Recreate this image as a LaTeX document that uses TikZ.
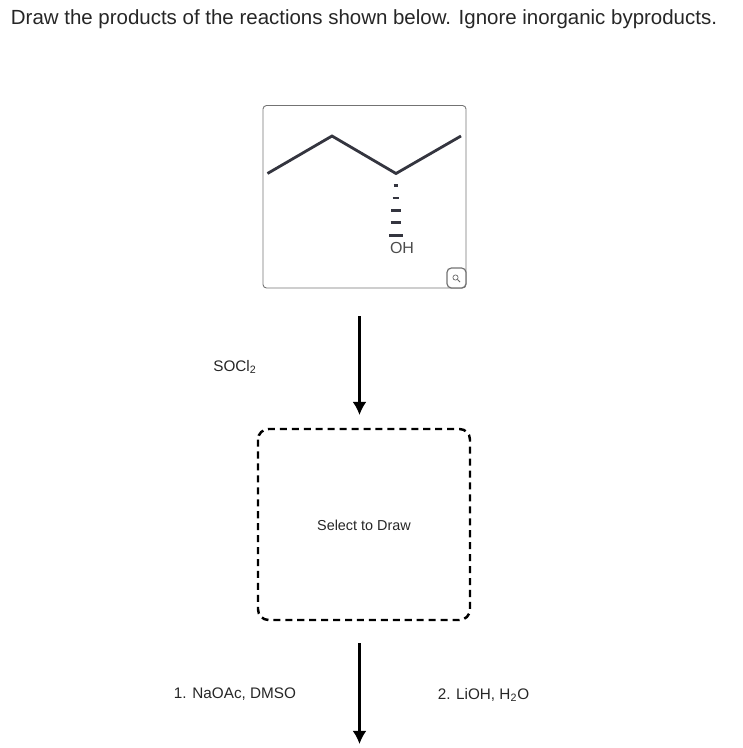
\documentclass[tikz,border=0pt]{standalone}
\usepackage{fontspec}
\setmainfont{Liberation Sans}
\usetikzlibrary{arrows.meta}
\definecolor{bondgray}{HTML}{34353F}
\tikzset{
    label text/.style={inner sep=0pt, font=\fontsize{8.7pt}{11pt}\selectfont, text=black!85},
    bond/.style={line width=1.6pt, draw=bondgray},
    hash/.style={line width=1.7pt, draw=bondgray},
    react arrow/.style={line width=1.2pt, -{Latex[length=7.5pt, width=8pt]}}
}
\begin{document}
\begin{tikzpicture}[x=0.02cm, y=-0.02cm]
    \useasboundingbox (0, 0) rectangle (743, 748);
    \node[inner sep=0pt, font=\fontsize{11.65pt}{14pt}\selectfont, text=black!85] (title) at (364, 19) {Draw the products of the reactions shown below. Ignore inorganic byproducts.};

    % starting material
    \draw[rounded corners=2pt, draw=black!55, line width=0.5pt] (263, 105.5) rectangle (466, 288);
    \coordinate (c1) at (267.5, 173.5);
    \coordinate (c2) at (332, 136);
    \coordinate (c3) at (396, 173.5);
    \coordinate (c4) at (461, 136);
    \draw[bond] (c1) -- (c2) -- (c3) -- (c4);
    \foreach \y/\w in {185.7/2.3, 198/3.3, 210.5/4.7, 222.5/5.3, 235/7} {
        \draw[hash] (396-\w, \y) -- (396+\w, \y);
    }
    \node[label text, text=black!70, font=\fontsize{9.1pt}{11pt}\selectfont] (oh) at (402, 247.5) {OH};

    % zoom button
    \draw[rounded corners=2.5pt, draw=black!55, line width=0.7pt, fill=white] (447, 268) rectangle (466, 288);
    \draw[black!60, line width=0.4pt] (455.5, 277.5) circle (2.6);
    \draw[black!60, line width=0.6pt] (457.5, 279.5) -- (460, 282);

    % reaction arrows and conditions
    \coordinate (a1) at (359.5, 316);
    \coordinate (a2) at (359.5, 415);
    \draw[react arrow] (a1) -- (a2);
    \node[label text] (socl) at (235, 366.5) {SOCl\textsubscript{2}};

    \draw[line width=1.4pt, dash pattern=on 4pt off 2.8pt, rounded corners=6pt] (258, 429) rectangle (470, 620);
    \node[label text, font=\fontsize{8.2pt}{11pt}\selectfont] (select) at (364, 525) {Select to Draw};

    \coordinate (a3) at (359.5, 643);
    \coordinate (a4) at (359.5, 744);
    \draw[react arrow] (a3) -- (a4);
    \node[label text] (naoac) at (235, 694.5) {1. NaOAc, DMSO};
    \node[label text] (lioh) at (483.5, 694.5) {2. LiOH, H\textsubscript{2}O};
\end{tikzpicture}
\end{document}
